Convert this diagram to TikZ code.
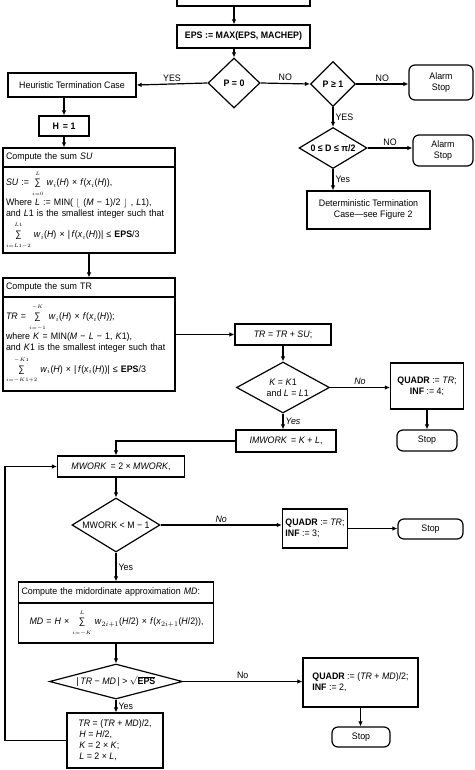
\documentclass[tikz,border=0pt]{standalone}
\usepackage{amsmath}
\usepackage{amssymb}
\usepackage{fontspec}
\setmainfont{Liberation Sans}[FakeStretch=0.94]
\usetikzlibrary{arrows.meta,shapes.geometric}

\newcommand{\diagfont}{\fontsize{9.4}{11}\selectfont}
\newcommand{\ix}[2]{\textit{#1}$_{#2}$}
\newcommand{\lims}[2]{$\mathop{\text{∑}}\limits_{\raisebox{-2pt}{$\scriptscriptstyle #1$}}^{\raisebox{2.5pt}{$\scriptscriptstyle #2$}}$}

\tikzset{
  box/.style={draw, line width=1.2pt, inner sep=3pt, align=center},
  stopbox/.style={box, rounded corners=6pt},
  decision/.style={draw, diamond, line width=1.2pt, inner sep=0pt, align=center},
  flow/.style={line width=1.2pt, -{Latex[length=5pt,width=4.5pt]}},
  lbl/.style={font=\diagfont, inner sep=2pt},
}

\begin{document}
\begin{tikzpicture}[x=1pt, y=-1pt, font=\diagfont]
  \useasboundingbox (0,0) rectangle (474,770);
  %\draw [help lines] (0,0) grid (474,770);
  % top of the chart
  \node [box, minimum width=133pt, minimum height=26pt] (start) at (243.5,-7) {};
  \node [box, font=\diagfont\bfseries, minimum width=133pt, minimum height=23pt] (eps) at (243.5,36.5) {EPS := MAX(EPS, MACHEP)};
  \node [decision, font=\diagfont\bfseries, minimum width=52pt, minimum height=50pt] (p0) at (234,83) {P = 0};
  \node [box, minimum width=128pt, minimum height=24pt] (heur) at (72,85) {Heuristic Termination Case};
  \node [decision, font=\diagfont\bfseries, minimum width=45pt, minimum height=45pt] (p1) at (333,84) {P ≥ 1};
  \node [stopbox, minimum width=64pt, minimum height=35pt] (alarm1) at (441,82.5) {Alarm\\Stop};
  \node [decision, font=\diagfont\bfseries, aspect=1.8, minimum width=68pt, minimum height=41pt] (dd) at (333,148) {0 ≤ D ≤ π/2};
  \node [stopbox, minimum width=60pt, minimum height=31pt] (alarm2) at (443,150.5) {Alarm\\Stop};
  \node [box, align=left, minimum width=123pt, minimum height=38pt] (det) at (368.5,210) {Deterministic Termination\\\hspace*{1.6em}Case—see Figure 2};
  \node [box, font=\diagfont\bfseries, minimum width=50pt, minimum height=20pt] (h1) at (64,126) {H\, = 1};
  % sum SU
  \node [box, align=left, text width=166pt, minimum height=19pt] (suh) at (89,157.5) {Compute the sum \textit{SU}};
  \node [box, align=left, text width=166pt, minimum height=86pt] (sub) at (89,210) {%
    \textit{SU} := \lims{i=0}{L} \ix{w}{i}(\textit{H}) × \textit{f}(\ix{x}{i}(\textit{H})),\\[1pt]
    Where \textit{L} := MIN( $\lfloor$ (\textit{M} − 1)/2 $\rfloor$ , \textit{L}1),\\
    and \textit{L}1 is the smallest integer such that\\[3pt]
    \lims{i=L1-2}{L1} \ix{w}{i}(\textit{H}) × |\,\textit{f}(\ix{x}{i}(\textit{H}))| ≤ \textbf{EPS}/3};
  % sum TR
  \node [box, align=left, text width=166pt, minimum height=19pt] (trh) at (89,287.5) {Compute the sum TR};
  \node [box, align=left, text width=166pt, minimum height=94pt] (trb) at (89,344) {%
    \textit{TR} = \lims{i=-1}{-K} \ix{w}{i}(\textit{H}) × \textit{f}(\ix{x}{i}(\textit{H}));\\[1pt]
    where \textit{K} = MIN(\textit{M} − \textit{L} − 1, \textit{K}1),\\
    and \textit{K}1 is the smallest integer such that\\[3pt]
    \lims{i=-K1+2}{-K1} \ix{w}{i}(\textit{H}) × |\,\textit{f}(\ix{x}{i}(\textit{H}))| ≤ \textbf{EPS}/3};
  \node [box, minimum width=96pt, minimum height=21pt] (trsu) at (283,334.5) {\textit{TR} = \textit{TR} + \textit{SU};};
  \node [decision, aspect=1.8, minimum width=93pt, minimum height=51pt] (kk) at (283,387.5) {\textit{K} = \textit{K}1\\\hspace*{1em}and \textit{L} = \textit{L}1};
  \node [box, minimum width=73pt, minimum height=46pt] (q4) at (427,386) {\textbf{QUADR} := \textit{TR};\\\textbf{INF} := 4;};
  \node [stopbox, minimum width=60pt, minimum height=21pt] (stop4) at (427,440.5) {Stop};
  \node [box, minimum width=100pt, minimum height=22pt] (imw) at (286,441) {\textit{IMWORK}\, = \textit{K} + \textit{L},};
  % main loop
  \node [box, minimum width=127pt, minimum height=21pt] (mw) at (121,466.5) {\textit{MWORK}\, = 2 × \textit{MWORK},};
  \node [decision, aspect=2.2, minimum width=88pt, minimum height=54pt] (mm) at (116,525) {MWORK < M − 1};
  \node [box, align=left, minimum width=56pt, minimum height=39pt] (q3) at (315,528.5) {\textbf{QUADR} := \textit{TR};\\\textbf{INF} := 3;};
  \node [stopbox, minimum width=65pt, minimum height=20pt] (stop3) at (430.5,529) {Stop};
  \node [box, align=left, text width=189pt, minimum height=21pt] (mdh) at (116,592.5) {Compute the midordinate approximation \textit{MD}:};
  \node [box, align=left, text width=189pt, minimum height=40pt] (mdb) at (116,623) {%
    \hspace*{8pt}\textit{MD} = \textit{H} × \lims{i=-K}{L} \ix{w}{2i+1}(\textit{H}/2) × \textit{f}(\ix{x}{2i+1}(\textit{H}/2)),};
  \node [decision, aspect=4.2, minimum width=133pt, minimum height=35pt] (dm) at (116,681.5) {|\,\textit{TR} − \textit{MD}\,| > $\sqrt{\textbf{EPS}}$};
  \node [box, align=left, minimum width=115pt, minimum height=49pt] (q2) at (360.5,682.5) {\textbf{QUADR} := (\textit{TR} + \textit{MD})/2;\\\textbf{INF} := 2,};
  \node [stopbox, minimum width=58pt, minimum height=20pt] (stop2) at (361,737) {Stop};
  \node [box, align=left, minimum width=96pt, minimum height=55pt] (fin) at (115,740.5) {%
    \textit{TR} = (\textit{TR} + \textit{MD})/2,\\
    \hspace*{1pt}\textit{H} = \textit{H}/2,\\
    \hspace*{1pt}\textit{K} = 2 × \textit{K};\\
    \hspace*{1pt}\textit{L} = 2 × \textit{L},};
  \coordinate (loop) at (5,0);
  % connectors
  \draw [flow] (start.south -| p0) -- (eps.north -| p0);
  \draw [flow] (eps.south -| p0) -- (p0.north);
  \draw [flow] (p0.west) -- (heur.east) node [lbl, midway, above] {YES};
  \draw [flow] (p0.east) -- (p1.west) node [lbl, midway, above] {NO};
  \draw [flow] (p1.east) -- (p1.east -| alarm1.west) node [lbl, midway, above] {NO};
  \draw [flow] (p1.south) -- (dd.north) node [lbl, midway, right] {YES};
  \draw [flow] (dd.east) -- (dd.east -| alarm2.west) node [lbl, midway, above] {NO};
  \draw [flow] (dd.south) -- (dd.south |- det.north) node [lbl, midway, right] {Yes};
  \draw [flow] (heur.south -| h1) -- (h1.north);
  \draw [flow] (h1.south) -- (h1.south |- suh.north);
  \draw [flow] (sub.south) -- (trh.north);
  \draw [flow] (trb.east |- trsu) -- (trsu.west);
  \draw [flow] (trsu.south) -- (kk.north);
  \draw [flow] (kk.east) -- (kk.east -| q4.west) node [lbl, midway, above] {\textit{No}};
  \draw [flow] (q4.south) -- (stop4.north);
  \draw [flow] (kk.south) -- (kk.south |- imw.north) node [lbl, midway, right] {\textit{Yes}};
  \draw [flow] (imw.west) -| (mm |- mw.north);
  \draw [flow] (mw.south -| mm) -- (mm.north);
  \draw [flow] (mm.east) -- (mm.east -| q3.west) node [lbl, midway, above] {\textit{No}};
  \draw [flow] (q3.east) -- (q3.east -| stop3.west);
  \draw [flow] (mm.south) -- (mm.south |- mdh.north) node [lbl, midway, right] {Yes};
  \draw [flow] (mdb.south) -- (dm.north);
  \draw [flow] (dm.east) -- (dm.east -| q2.west) node [lbl, midway, above] {No};
  \draw [flow] (q2.south) -- (q2.south |- stop2.north);
  \draw [flow] (dm.south) -- (dm.south |- fin.north) node [lbl, midway, right] {Yes};
  \draw [flow] (fin.west) -- (fin.west -| loop) |- (mw.west);
\end{tikzpicture}
\end{document}
